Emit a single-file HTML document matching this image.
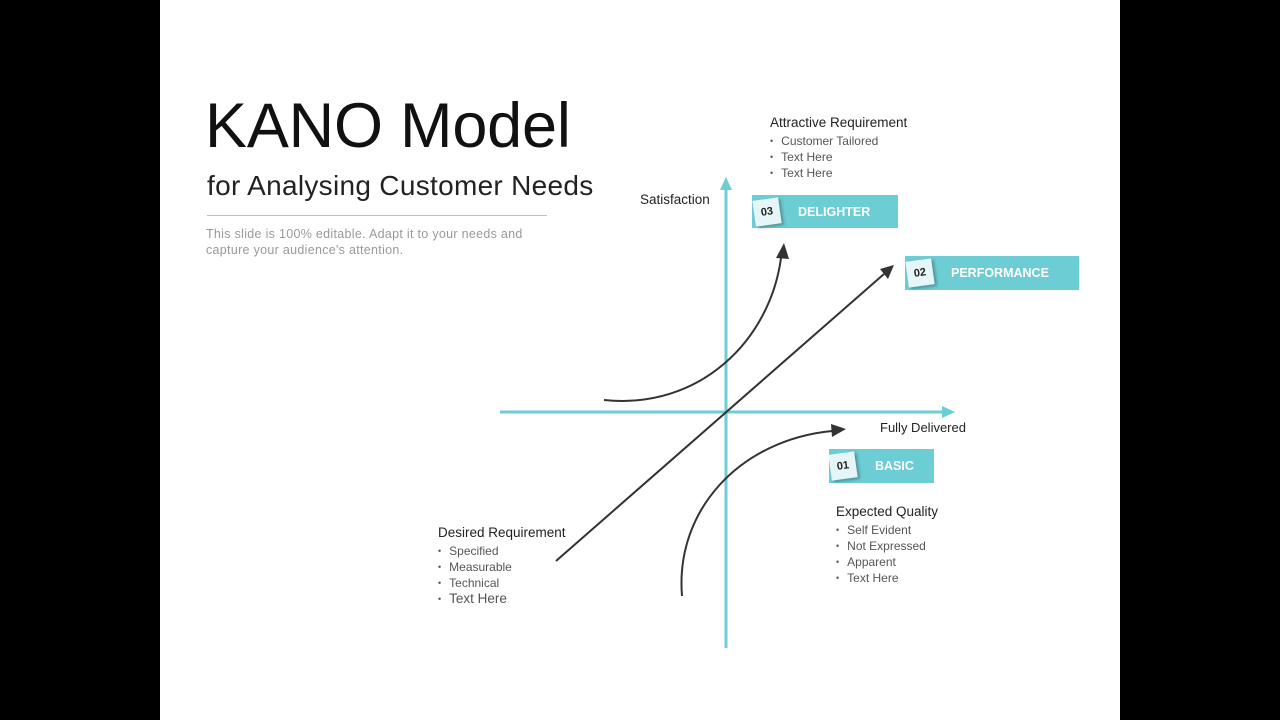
<!DOCTYPE html>
<html><head><style>
body{margin:0;width:1280px;height:720px;background:#000;position:relative;overflow:hidden;font-family:"Liberation Sans",sans-serif}
.slide{position:absolute;left:160px;top:0;width:960px;height:720px;background:#fff}
.a{position:absolute;white-space:nowrap}
.box{position:absolute;background:#6ccdd4;color:#fff;font-weight:bold;font-size:12.5px;display:flex;align-items:center}
.note{position:absolute;width:26px;height:26px;background:#e6f6f8;box-shadow:2px 2px 3px rgba(0,0,0,.3);transform:rotate(-8deg);font-size:11px;font-weight:bold;color:#222;display:flex;align-items:center;justify-content:center}
.h{font-size:13.5px;color:#222;line-height:16px}
ul{margin:2px 0 0;padding:0;list-style:none;font-size:12px;color:#555}
ul li{height:16px;line-height:16px}
ul li:before{content:"•";margin-right:8px;font-size:9px;vertical-align:1px}
</style></head><body>
<div class="slide"></div>
<div class="a" style="left:205px;top:90px;font-size:63px;color:#111;letter-spacing:-0.2px">KANO Model</div>
<div class="a" style="left:207px;top:170px;font-size:28px;color:#222;letter-spacing:0.3px">for Analysing Customer Needs</div>
<div class="a" style="left:207px;top:215px;width:340px;height:1px;background:#8fd3d9"></div>
<div class="a" style="left:206px;top:226px;font-size:12.5px;color:#999;line-height:16px;letter-spacing:0.3px">This slide is 100% editable. Adapt it to your needs and<br>capture your audience's attention.</div>
<svg class="a" style="left:0;top:0" width="1280" height="720">
<line x1="726" y1="190" x2="726" y2="648" stroke="#6ccdd4" stroke-width="3"/>
<polygon points="726,177 720,190 732,190" fill="#6ccdd4"/>
<line x1="500" y1="412" x2="942" y2="412" stroke="#6ccdd4" stroke-width="3"/>
<polygon points="955,412 942,406 942,418" fill="#6ccdd4"/>
<path d="M604,400 C700,410 770,340 781,258" stroke="#333" stroke-width="2" fill="none"/>
<polygon points="784,243 776,258 789,259" fill="#333"/>
<line x1="556" y1="561" x2="884" y2="274" stroke="#333" stroke-width="2"/>
<polygon points="894,265 880,269 888,279" fill="#333"/>
<path d="M682,596 C675,510 740,440 832,431" stroke="#333" stroke-width="2" fill="none"/>
<polygon points="846,429 831,424 832,437" fill="#333"/>
</svg>
<div class="a" style="left:640px;top:192px;font-size:13.5px;color:#222">Satisfaction</div>
<div class="a" style="left:880px;top:420px;font-size:13px;color:#222">Fully Delivered</div>
<div class="box" style="left:752px;top:195px;width:146px;height:33px"><span style="margin-left:46px">DELIGHTER</span></div>
<div class="note" style="left:754px;top:199px">03</div>
<div class="box" style="left:905px;top:256px;width:174px;height:34px"><span style="margin-left:46px">PERFORMANCE</span></div>
<div class="note" style="left:907px;top:260px">02</div>
<div class="box" style="left:829px;top:449px;width:105px;height:34px"><span style="margin-left:46px">BASIC</span></div>
<div class="note" style="left:830px;top:453px">01</div>
<div class="a" style="left:770px;top:115px"><div class="h">Attractive Requirement</div><ul><li>Customer Tailored</li><li>Text Here</li><li>Text Here</li></ul></div>
<div class="a" style="left:836px;top:504px"><div class="h">Expected Quality</div><ul><li>Self Evident</li><li>Not Expressed</li><li>Apparent</li><li>Text Here</li></ul></div>
<div class="a" style="left:438px;top:525px"><div class="h">Desired Requirement</div><ul><li>Specified</li><li>Measurable</li><li>Technical</li><li style="font-size:13.5px">Text Here</li></ul></div>
</body></html>
